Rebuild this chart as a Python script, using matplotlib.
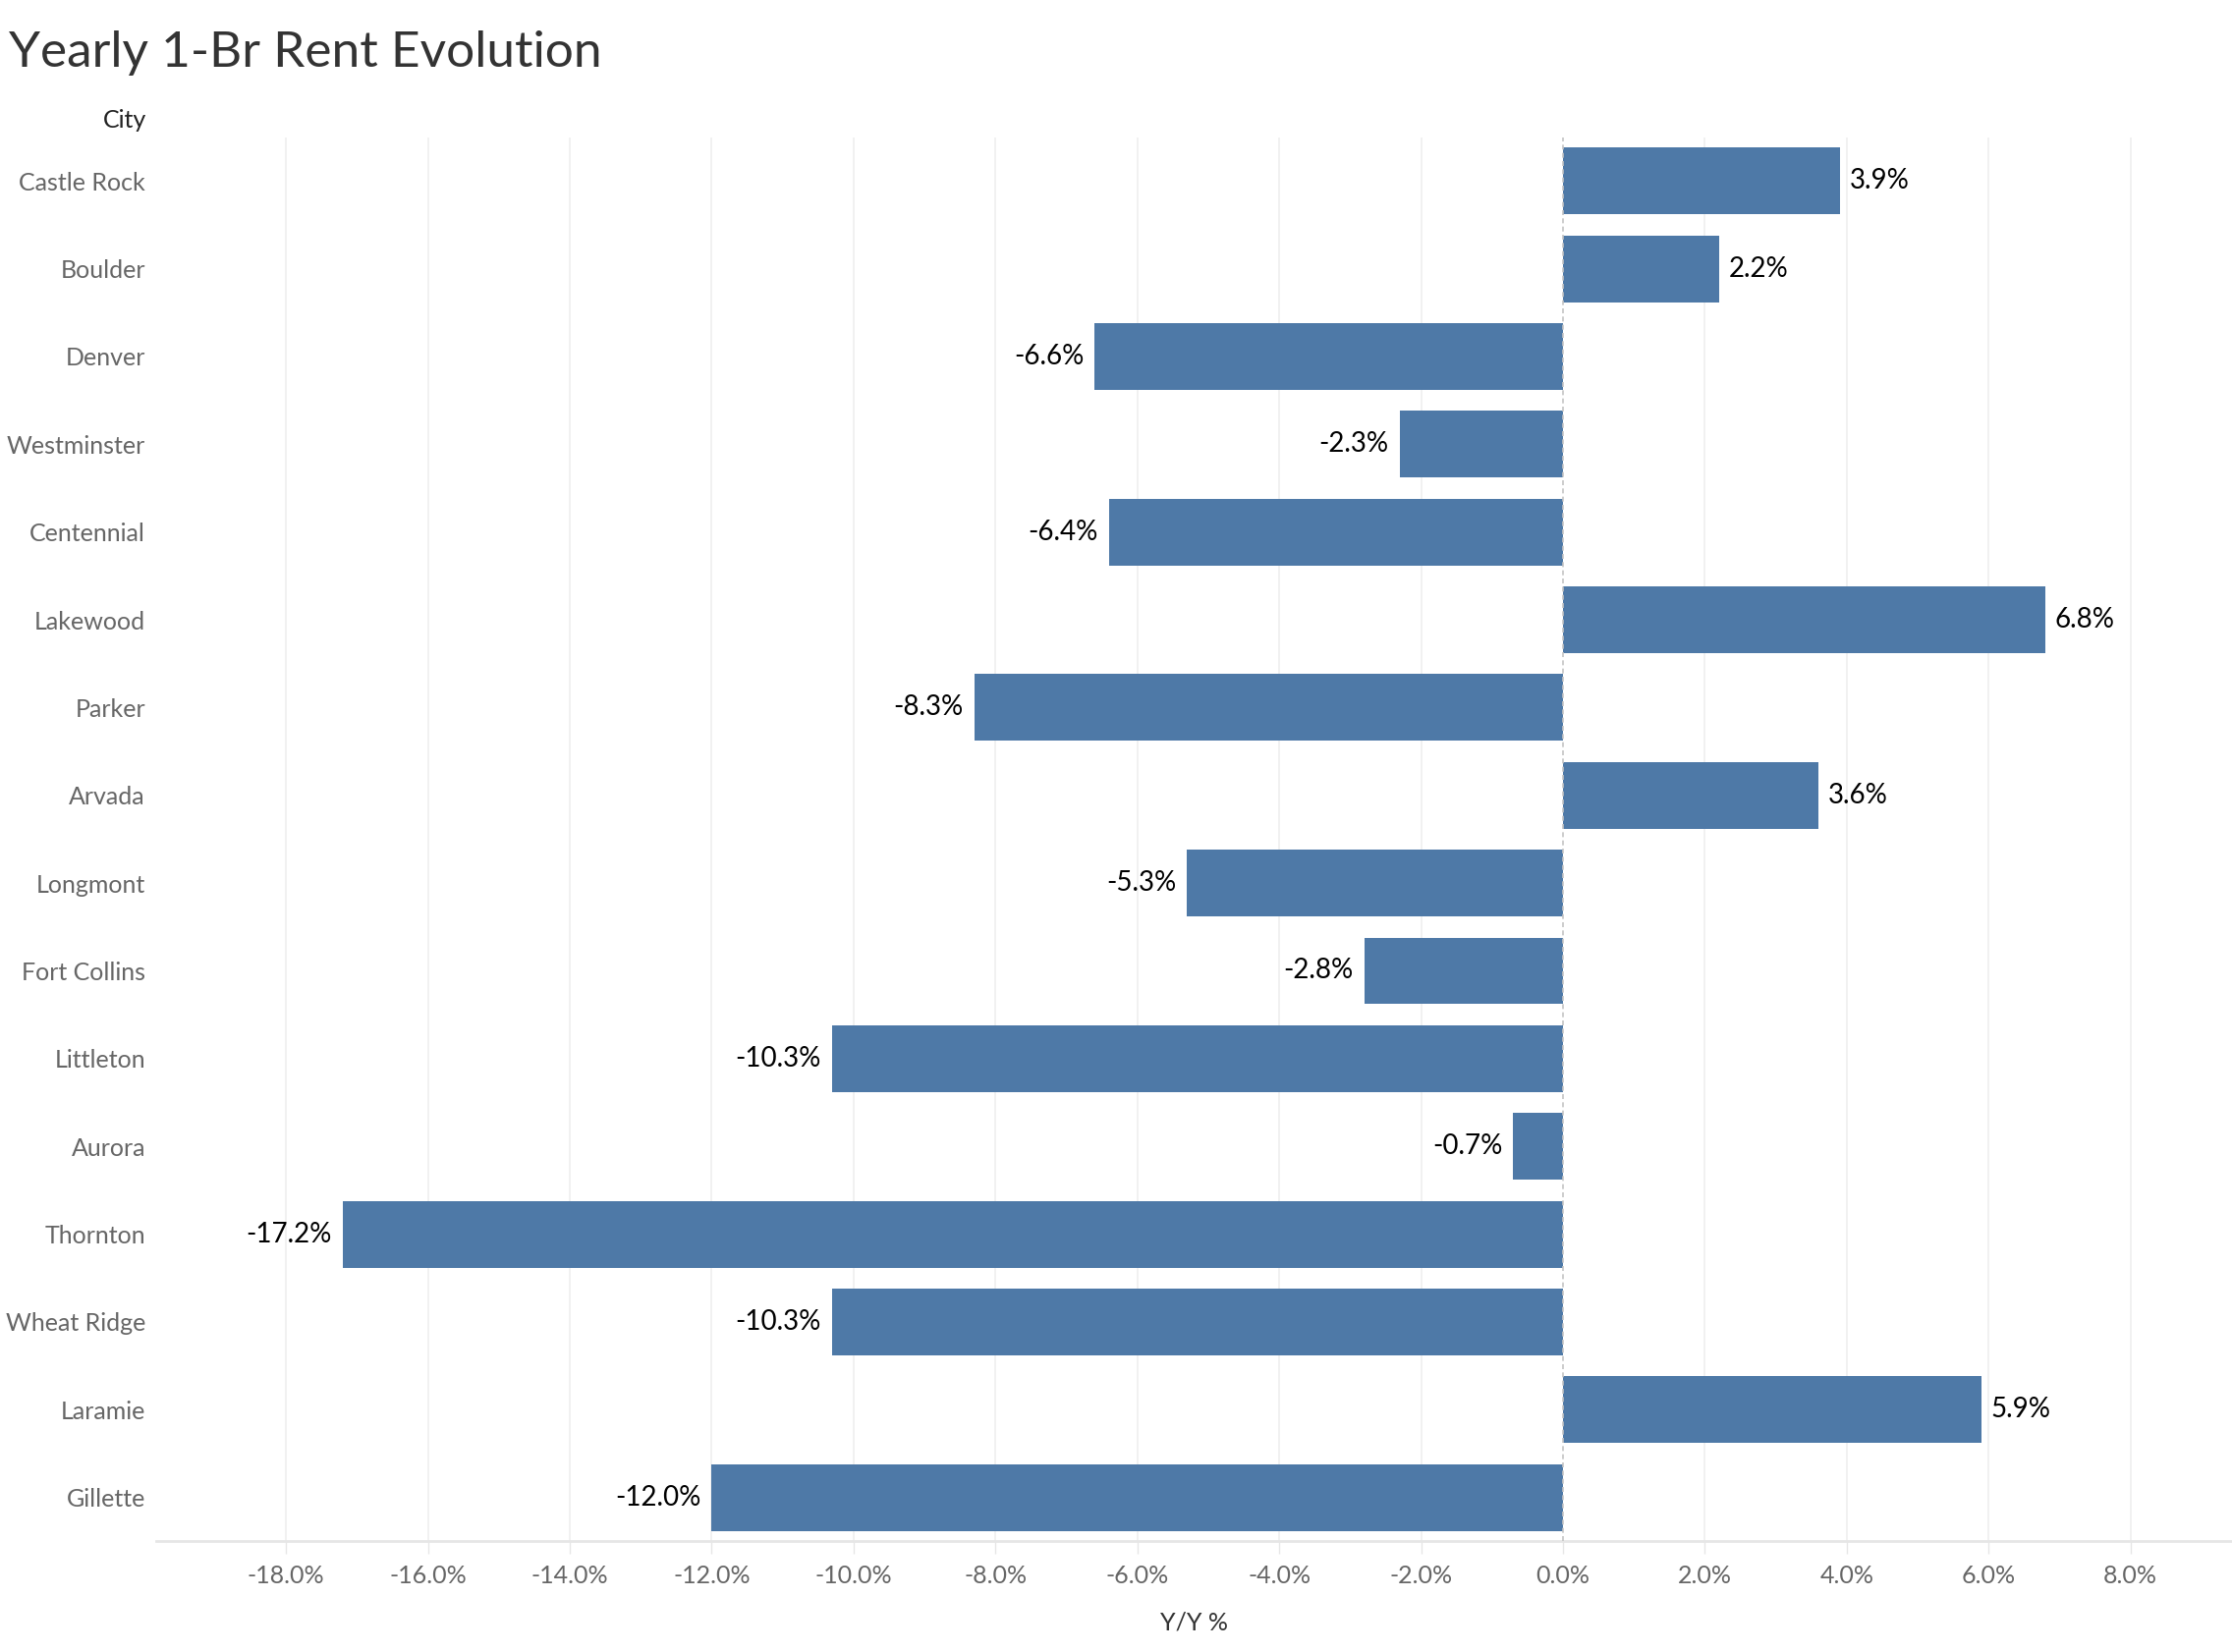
import matplotlib.pyplot as plt
import numpy as np

font = "Lato"

cities = ["Castle Rock", "Boulder", "Denver", "Westminster", "Centennial", "Lakewood",
          "Parker", "Arvada", "Longmont", "Fort Collins", "Littleton", "Aurora",
          "Thornton", "Wheat Ridge", "Laramie", "Gillette"]
yoy = [3.9, 2.2, -6.6, -2.3, -6.4, 6.8, -8.3, 3.6, -5.3, -2.8, -10.3, -0.7,
       -17.2, -10.3, 5.9, -12.0]
xticks = np.arange(-18, 9, 2)

plt.rcParams['font.family'] = [font, 'DejaVu Sans']

fig = plt.figure(figsize=(22.72, 16.82), dpi=100)
ax = fig.add_axes([0.070, 0.067, 0.930, 0.850])

y = np.arange(len(cities))
ax.barh(y, yoy, height=0.76, color="#4e79a7", zorder=3)

for yi, v in zip(y, yoy):
    if v >= 0:
        ax.annotate("{:.1f}%".format(v), (v, yi), xytext=(7, 0), textcoords="offset points",
                    ha="left", va="center", fontsize=20, color="black")
    else:
        ax.annotate("{:.1f}%".format(v), (v, yi), xytext=(-8, 0), textcoords="offset points",
                    ha="right", va="center", fontsize=20, color="black")

ax.set_xlim(-19.83, 9.43)
ax.set_ylim(len(cities) - 0.5, -0.5)
ax.set_yticks(y)
ax.set_yticklabels(cities, fontsize=18, color="#666666")
ax.set_xticks(xticks)
ax.set_xticklabels(["{:.1f}%".format(t) for t in xticks], fontsize=18, color="#666666")

ax.tick_params(axis="y", length=0, pad=8)
ax.tick_params(axis="x", length=9, width=1, color="#e6e6e6", pad=8)

for t in xticks:
    if t != 0:
        ax.axvline(t, color="#efefef", linewidth=1.2, zorder=1)
ax.axvline(0, color="#c4c4c4", linewidth=1.2, linestyle=(0, (3, 2)), zorder=4)

for s in ["top", "right", "left"]:
    ax.spines[s].set_visible(False)
ax.spines["bottom"].set_color("#e6e6e6")
ax.spines["bottom"].set_linewidth(2)

ax.set_xlabel("Y/Y %", fontsize=18, color="#333333", labelpad=18)

fig.text(0.004, 0.968, "Yearly 1-Br Rent Evolution", fontsize=37, color="#333333",
         ha="left", va="center")
fig.text(149 / 2272, 1 - 122 / 1682, "City", fontsize=18, color="#222222",
         ha="right", va="center")

plt.savefig("out.png")
